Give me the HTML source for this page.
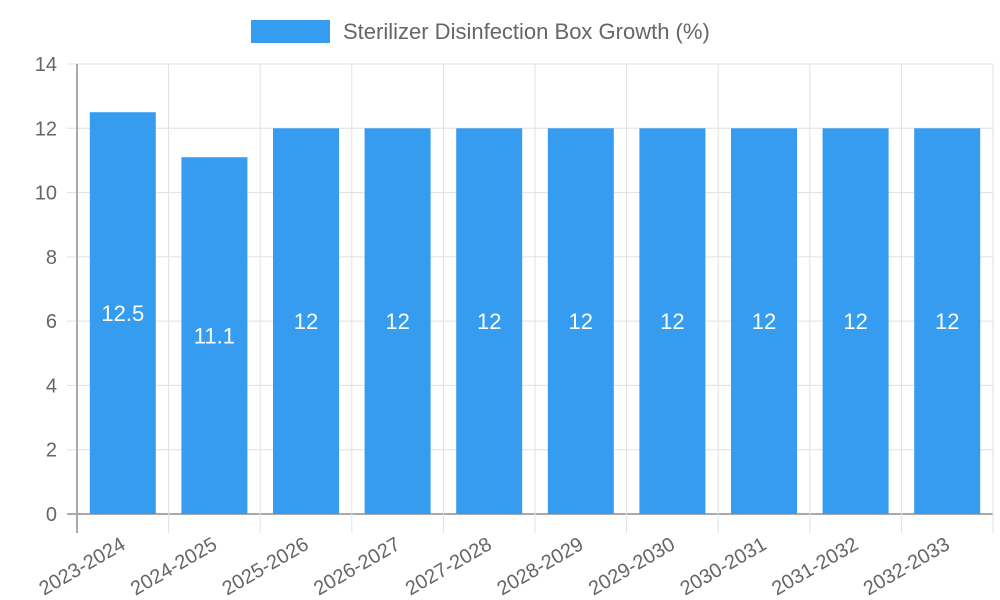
<!DOCTYPE html>
<html><head><meta charset="utf-8"><style>
body{margin:0;background:#fff;}
svg{display:block;font-family:"Liberation Sans",sans-serif;}
</style></head><body>
<svg id="c" width="1000" height="600">
<g>
<rect x="251" y="20" width="79" height="23" fill="#369CF0"></rect>
<text x="343" y="39" font-size="22" fill="#666">Sterilizer Disinfection Box Growth (%)</text>
</g>
<g id="grid"></g><g id="bars"></g><g id="labels"></g>
</svg>
<script>
const categories=["2023-2024","2024-2025","2025-2026","2026-2027","2027-2028","2028-2029","2029-2030","2030-2031","2031-2032","2032-2033"];
const values=[12.5,11.1,12,12,12,12,12,12,12,12];
const yTicks=[0,2,4,6,8,10,12,14];
const L=77,R=993,T=64,B=514,yMax=14;
const y=v=>B-(v/yMax)*(B-T);
const bw=(R-L)/categories.length;
const x=i=>L+bw*i;
const NS="http://www.w3.org/2000/svg";
function mk(tag,attrs,parent,txt){const e=document.createElementNS(NS,tag);for(const k in attrs)e.setAttribute(k,attrs[k]);if(txt!==undefined)e.textContent=txt;parent.appendChild(e);return e;}
const grid=document.getElementById('grid'),bars=document.getElementById('bars'),labels=document.getElementById('labels');
yTicks.forEach(t=>{
 const g=mk('line',{x1:L-10,x2:R,y1:y(t),y2:y(t),stroke:t===0?'#aaa':'#e0e0e0','stroke-width':t===0?2:1},grid);
 
 
 const tx=mk('text',{x:L-20,y:y(t)+7,'text-anchor':'end','font-size':20,fill:'#666'},grid,t);
 
 
});
for(let i=0;i<=categories.length;i++){
 const g=mk('line',{x1:x(i),x2:x(i),y1:T,y2:B+19,stroke:i===0?'#aaa':'#e0e0e0','stroke-width':i===0?2:1},grid);
 
 
}
categories.forEach((c,i)=>{
 const cx=x(i)+bw/2,w=66;
 const r=mk('rect',{x:cx-w/2,y:y(values[i]),width:w,height:B-y(values[i]),fill:'#369CF0'},bars);
 
 
 const v=mk('text',{x:cx,y:(y(values[i])+B)/2+8,'text-anchor':'middle','font-size':22,fill:'#fff'},labels,values[i]);
 
 
 const t=mk('text',{x:0,y:0,'text-anchor':'end','font-size':20,fill:'#666',transform:`translate(${cx+4},${B+34}) rotate(-30)`},labels,c);
 
 
});
</script>
</body></html>
